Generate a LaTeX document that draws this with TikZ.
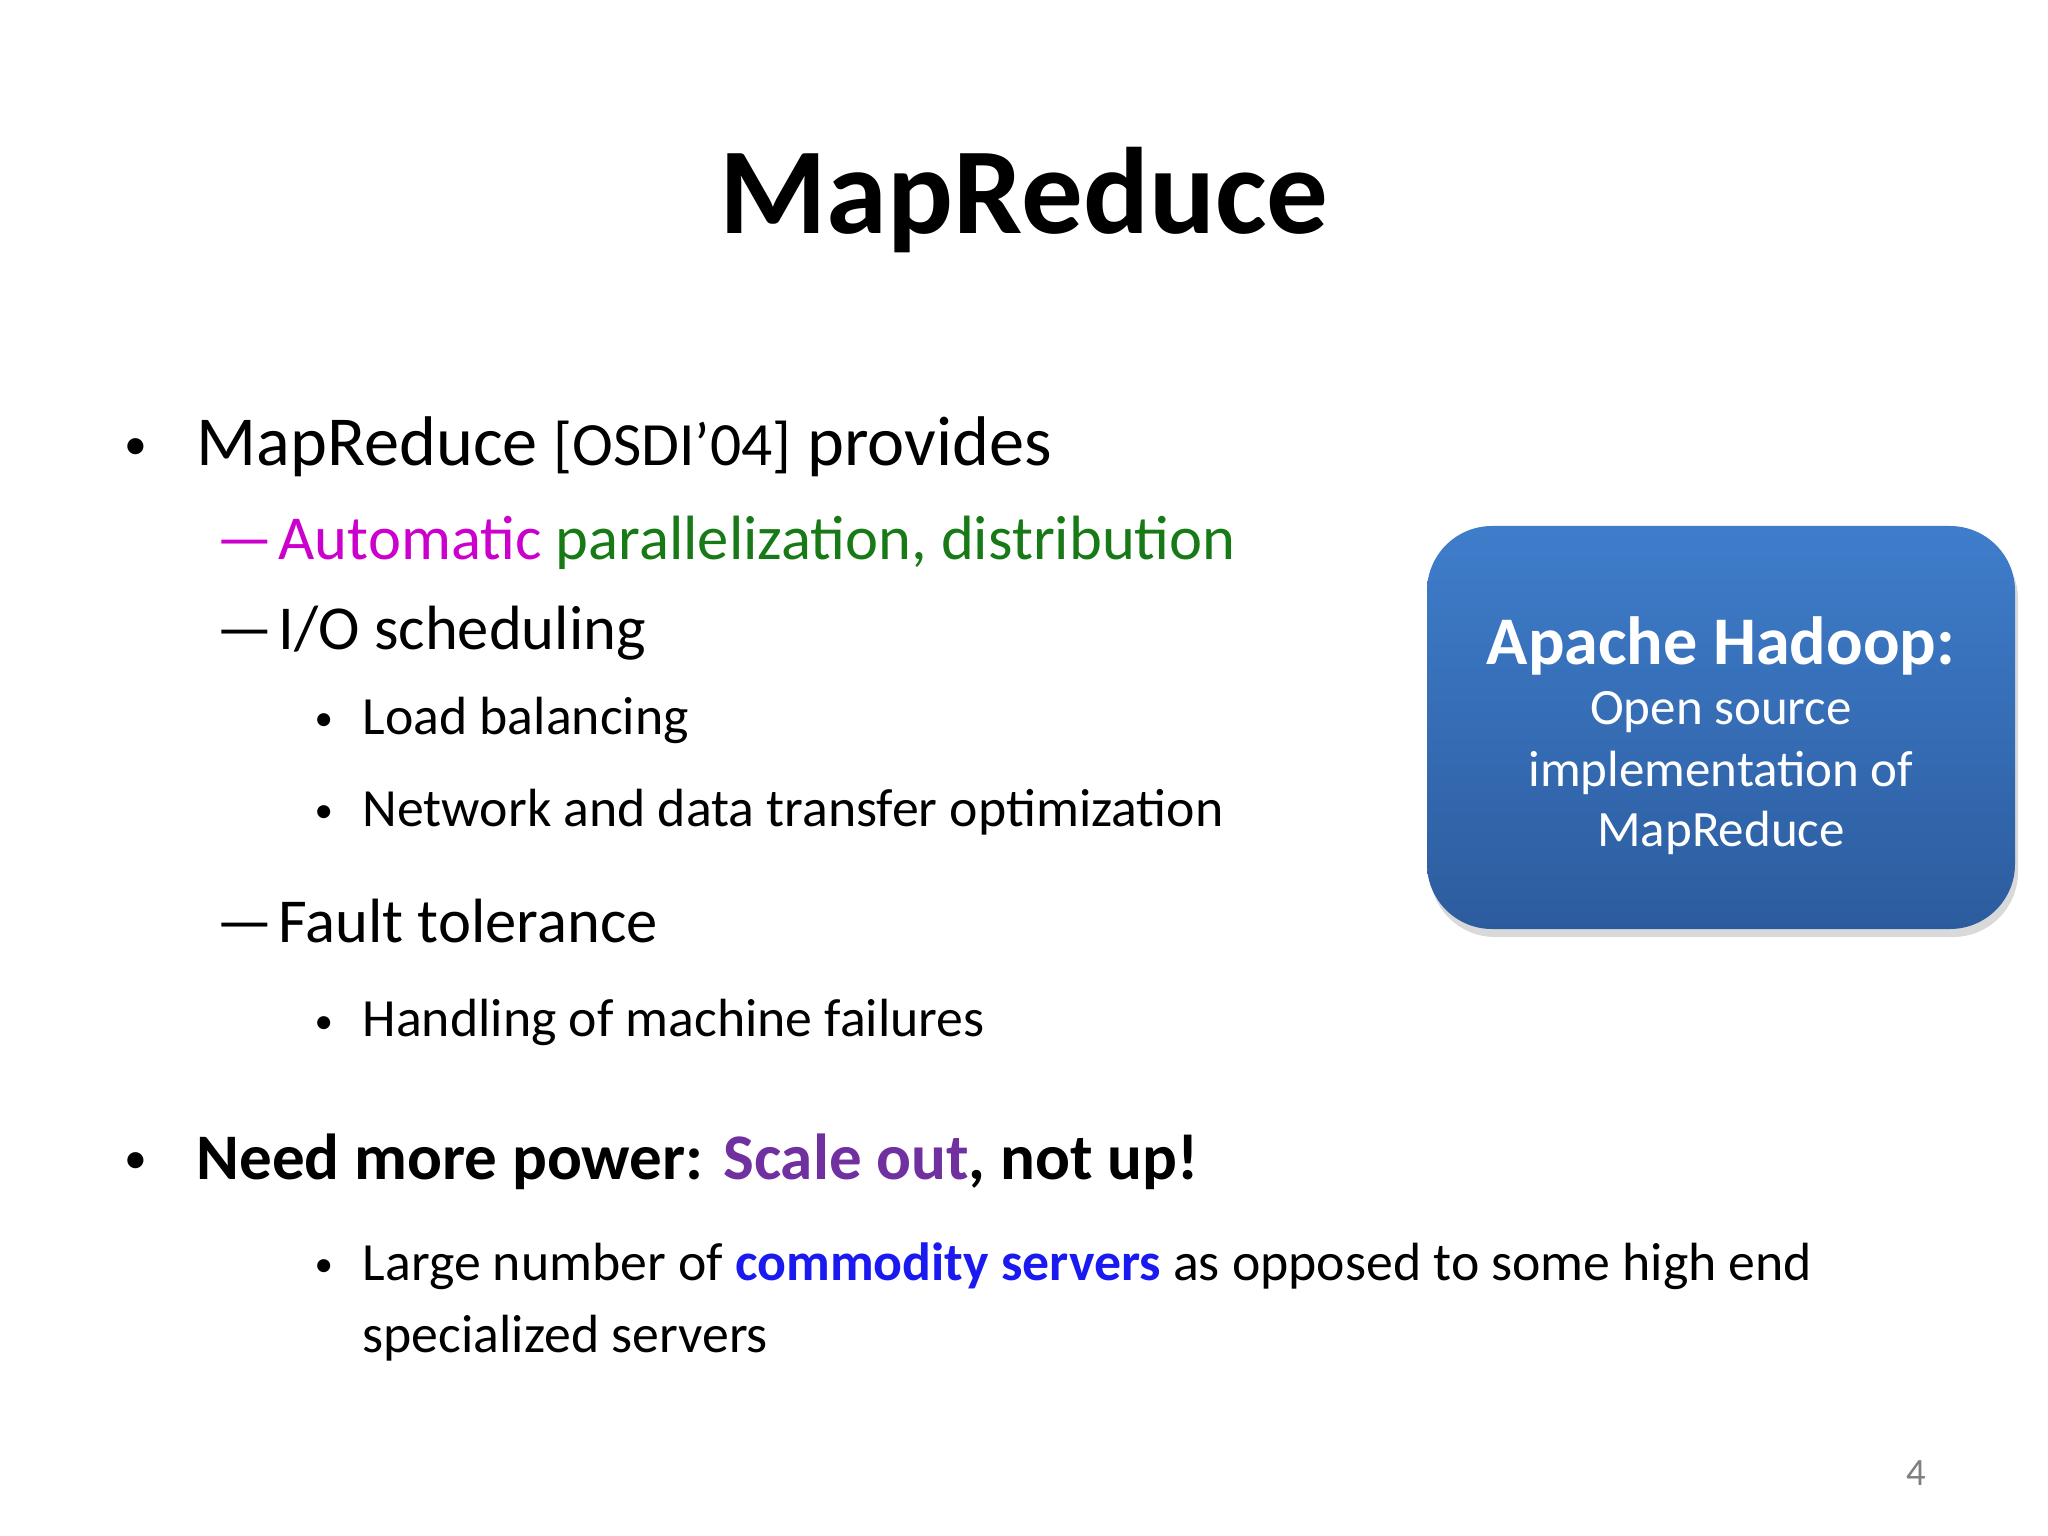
\documentclass[tikz,border=0pt]{standalone}
\usepackage{fontspec}
\setmainfont{Carlito}
\usetikzlibrary{shadows}
\definecolor{mag}{HTML}{CC00CC}
\definecolor{grn}{HTML}{177A17}
\definecolor{pur}{HTML}{7030A0}
\definecolor{blu}{HTML}{1A1AF0}
\definecolor{boxtop}{HTML}{3F7DCB}
\definecolor{boxbot}{HTML}{2C5C9E}
\tikzset{
  lone/.style={anchor=base west,inner sep=0pt,font=\fontsize{20}{24}\selectfont},
  ltwo/.style={anchor=base west,inner sep=0pt,font=\fontsize{17.8}{21}\selectfont},
  lthree/.style={anchor=base west,inner sep=0pt,font=\fontsize{15.3}{19}\selectfont},
  bul/.style={anchor=base west,inner sep=0pt,font=\fontsize{13}{16}\selectfont},
  sbul/.style={anchor=base west,inner sep=0pt,font=\fontsize{10.5}{13}\selectfont},
  boxtxt/.style={text=white,font=\fontsize{14.5}{18}\selectfont},
}
\begin{document}
\begin{tikzpicture}
\useasboundingbox (0,0) rectangle (20.48,-15.36);
\node[font=\fontsize{35}{40}\bfseries\selectfont] (title) at (10.24,-2.0) {MapReduce};
% level 1
\node[bul] (b1) at (1.24,-4.60) {•};
\node[lone] (t1) at (1.96,-4.66) {MapReduce {\fontsize{17.5}{21}\selectfont[OSDI’04]} provides};
\node[ltwo,mag] (d1) at (2.16,-5.59) {—};
\node[ltwo] (t2) at (2.78,-5.59) {\textcolor{mag}{Automatic} \textcolor{grn}{parallelization, distribution}};
\node[ltwo] (d2) at (2.16,-6.49) {—};
\node[ltwo] (t3) at (2.78,-6.49) {I/O scheduling};
\node[sbul] (b3) at (3.14,-7.31) {•};
\node[lthree] (t4) at (3.62,-7.35) {Load balancing};
\node[sbul] (b4) at (3.14,-8.23) {•};
\node[lthree] (t5) at (3.62,-8.27) {Network and data transfer optimization};
\node[ltwo] (d3) at (2.16,-9.42) {—};
\node[ltwo] (t6) at (2.78,-9.42) {Fault tolerance};
\node[sbul] (b6) at (3.14,-10.33) {•};
\node[lthree] (t7) at (3.62,-10.37) {Handling of machine failures};
\node[bul] (b7) at (1.24,-11.73) {•};
\node[lone,font=\fontsize{18.5}{22}\bfseries\selectfont] (t8) at (1.96,-11.79) {Need more power: \textcolor{pur}{Scale out}, not up!};
\node[sbul] (b8) at (3.14,-12.76) {•};
\node[lthree] (t9) at (3.62,-12.80) {Large number of \textcolor{blu}{\bfseries commodity servers} as opposed to some high end};
\node[lthree] (t10) at (3.62,-13.52) {specialized servers};
\node[anchor=base,font=\fontsize{11}{13}\selectfont,text=gray] (pg) at (19.16,-14.85) {4};
% box
\shade[top color=boxtop,bottom color=boxbot,rounded corners=0.65cm,drop shadow={opacity=0.3,shadow xshift=0.03cm,shadow yshift=-0.08cm}]
  (14.27,-5.26) rectangle (20.15,-9.29);
\node[text=white,font=\fontsize{19.4}{23}\bfseries\selectfont,anchor=base] (h1) at (17.21,-6.65) {Apache Hadoop:};
\node[boxtxt,anchor=base] (h2) at (17.21,-7.25) {Open source};
\node[boxtxt,anchor=base] (h3) at (17.21,-7.86) {implementation of};
\node[boxtxt,anchor=base] (h4) at (17.21,-8.47) {MapReduce};
\end{tikzpicture}
\end{document}
